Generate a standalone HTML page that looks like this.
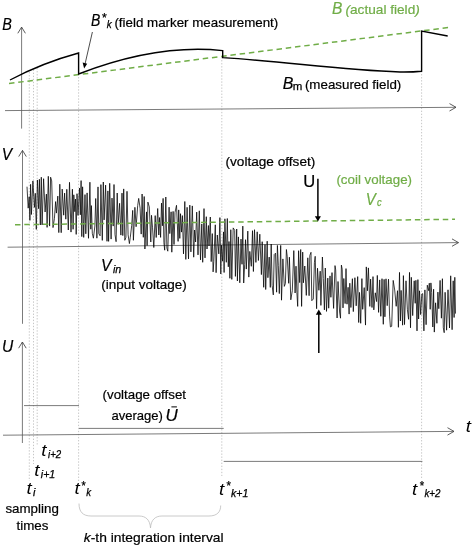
<!DOCTYPE html>
<html><head><meta charset="utf-8"><title>Figure</title>
<style>html,body{margin:0;padding:0;background:#fff}svg{display:block}</style></head>
<body>
<svg width="474" height="550" viewBox="0 0 474 550">
<rect width="474" height="550" fill="#fff"/>
<line x1="29.3" y1="72" x2="29.3" y2="481" stroke="#b8b8b8" stroke-width="0.8" stroke-dasharray="1.35 1.7" fill="none"/>
<line x1="33.5" y1="69.6" x2="33.5" y2="464" stroke="#b8b8b8" stroke-width="0.8" stroke-dasharray="1.35 1.7" fill="none"/>
<line x1="37.2" y1="68" x2="37.2" y2="446" stroke="#b8b8b8" stroke-width="0.8" stroke-dasharray="1.35 1.7" fill="none"/>
<line x1="78.6" y1="74" x2="78.6" y2="481" stroke="#b8b8b8" stroke-width="0.8" stroke-dasharray="1.35 1.7" fill="none"/>
<line x1="221.8" y1="57" x2="221.8" y2="476" stroke="#b8b8b8" stroke-width="0.8" stroke-dasharray="1.35 1.7" fill="none"/>
<line x1="421.6" y1="71" x2="421.6" y2="478.5" stroke="#b8b8b8" stroke-width="0.8" stroke-dasharray="1.35 1.7" fill="none"/>
<path d="M21.6,128.6 L21.6,27.1" stroke="#595959" stroke-width="0.8" fill="none"/>
<path d="M17.8,33.300000000000004 L21.6,27.1 L25.400000000000002,33.300000000000004" stroke="#3f3f3f" stroke-width="0.85" fill="none"/>
<path d="M22.5,323.8 L22.5,150.4" stroke="#595959" stroke-width="0.8" fill="none"/>
<path d="M18.7,156.6 L22.5,150.4 L26.3,156.6" stroke="#3f3f3f" stroke-width="0.85" fill="none"/>
<path d="M22.4,443 L22.4,342" stroke="#595959" stroke-width="0.8" fill="none"/>
<path d="M18.599999999999998,348.2 L22.4,342 L26.2,348.2" stroke="#3f3f3f" stroke-width="0.85" fill="none"/>
<path d="M5,110.6 L456,107.3" stroke="#595959" stroke-width="0.8" fill="none"/>
<path d="M449.5,103.6 L456,107.3 L449.5,111.0" stroke="#3f3f3f" stroke-width="0.85" fill="none"/>
<path d="M7.6,247.2 L458.5,242.6" stroke="#595959" stroke-width="0.8" fill="none"/>
<path d="M452.0,238.9 L458.5,242.6 L452.0,246.29999999999998" stroke="#3f3f3f" stroke-width="0.85" fill="none"/>
<path d="M3,435.2 L454,431.4" stroke="#595959" stroke-width="0.8" fill="none"/>
<path d="M447.5,427.7 L454,431.4 L447.5,435.09999999999997" stroke="#3f3f3f" stroke-width="0.85" fill="none"/>
<line x1="9" y1="83.5" x2="451.5" y2="27.1" stroke="#70AD47" stroke-width="1.5" stroke-dasharray="5.5 3.8" fill="none"/>
<path d="M10,80 Q42,63 78.6,53 L78.6,74 C120,58 170,45 222.7,50.6 L222.7,57.6 C290,62 340,70 400,72 Q412,72.2 421.6,71.2 L421.6,31 L447.7,36" stroke="#000" stroke-width="1.4" fill="none" stroke-linejoin="miter"/>
<path d="M27.0,186.7 L28.2,208.2 L29.2,196.7 L29.9,220.4 L30.6,184.3 L31.4,214.5 L32.9,180.9 L34.4,207.4 L35.3,193.3 L36.3,229.4 L37.4,180.0 L38.6,208.7 L39.4,179.3 L40.3,225.0 L41.3,177.2 L42.1,224.9 L43.6,178.7 L45.1,212.0 L46.4,194.1 L47.1,227.4 L48.3,176.3 L49.6,226.1 L50.6,177.2 L51.7,180.9 L53.0,227.6 L54.4,218.7 L55.6,201.6 L56.4,213.1 L57.8,196.1 L58.8,232.6 L59.8,184.2 L61.2,232.7 L62.2,189.1 L63.7,215.2 L64.6,193.1 L65.8,219.2 L66.8,189.3 L68.3,230.0 L69.5,182.3 L71.0,232.1 L72.4,189.2 L73.1,229.3 L73.8,194.8 L74.8,211.7 L75.5,199.1 L76.2,234.4 L77.0,193.7 L78.0,215.4 L79.5,188.1 L80.3,214.8 L81.1,180.6 L81.8,236.6 L82.6,186.8 L83.7,237.4 L85.0,194.6 L85.8,233.8 L87.1,192.9 L88.5,238.3 L89.9,182.2 L90.8,229.2 L91.4,205.6 L92.3,233.3 L93.4,238.2 L94.9,226.0 L95.7,198.5 L96.9,238.2 L98.0,186.9 L98.8,233.7 L100.1,235.8 L100.9,184.6 L102.3,240.4 L103.3,182.0 L104.1,219.9 L105.6,185.1 L107.0,241.3 L107.9,190.9 L108.6,241.4 L109.7,183.3 L111.1,239.1 L112.0,198.1 L113.2,226.1 L114.0,184.5 L115.0,234.7 L116.1,241.7 L117.2,193.0 L118.2,224.4 L119.6,203.3 L120.9,235.1 L122.0,193.1 L122.8,235.6 L123.7,188.9 L124.8,240.3 L125.9,237.4 L127.0,191.3 L128.1,234.8 L129.4,243.6 L130.3,237.2 L131.7,225.5 L132.7,210.4 L133.4,240.3 L134.9,207.3 L136.1,226.7 L137.7,205.6 L138.7,198.4 L140.1,208.2 L141.2,234.1 L142.1,194.0 L143.3,237.3 L144.2,196.5 L144.9,249.0 L146.5,211.9 L147.1,245.6 L147.9,202.1 L149.3,206.9 L150.8,242.0 L151.5,215.3 L152.5,227.2 L153.8,247.5 L155.2,215.6 L156.2,237.5 L157.7,208.5 L158.8,235.0 L159.6,217.5 L160.6,237.4 L161.5,203.1 L162.4,225.8 L163.1,198.4 L163.9,242.7 L164.7,250.2 L165.8,197.0 L166.9,248.1 L167.8,251.2 L169.1,207.2 L169.8,233.6 L171.1,211.8 L171.8,252.2 L173.1,211.4 L174.0,244.5 L175.0,212.4 L176.5,205.3 L178.1,241.4 L178.7,209.9 L179.8,238.4 L180.5,213.7 L181.5,232.1 L182.4,215.6 L183.5,253.9 L184.8,201.5 L185.8,259.4 L187.1,207.3 L188.5,258.9 L189.8,205.1 L190.9,251.9 L192.3,205.9 L193.7,257.2 L194.6,230.0 L195.6,242.0 L196.7,212.1 L198.0,254.9 L199.3,210.8 L200.5,259.9 L201.8,224.0 L202.7,262.3 L204.0,208.6 L205.0,257.9 L206.3,216.7 L207.0,249.0 L208.4,225.5 L209.0,246.0 L210.3,217.0 L211.2,261.6 L212.3,233.6 L213.1,271.9 L213.8,261.4 L215.3,224.8 L216.1,272.7 L217.3,235.0 L218.8,253.9 L219.9,217.6 L220.8,274.0 L221.4,245.1 L222.5,261.2 L223.5,231.9 L224.1,272.5 L224.9,218.8 L226.3,262.3 L227.3,218.5 L228.3,266.8 L229.0,241.5 L229.9,278.3 L230.8,229.7 L231.8,279.4 L233.2,227.9 L234.7,230.3 L235.4,276.4 L236.7,229.0 L237.4,281.0 L238.4,236.9 L239.8,282.8 L241.0,239.1 L242.0,264.3 L242.8,226.1 L243.7,283.0 L244.7,264.3 L245.5,239.7 L246.3,269.1 L247.8,231.1 L248.8,277.1 L249.8,251.4 L251.3,266.3 L252.5,230.7 L253.4,271.5 L254.5,229.7 L255.9,262.4 L257.2,231.8 L258.4,260.5 L259.8,234.2 L261.4,274.6 L262.2,241.7 L263.7,287.3 L265.0,244.5 L265.7,289.5 L267.2,241.2 L267.9,277.7 L269.2,257.1 L270.3,287.4 L271.2,244.0 L272.1,285.3 L273.3,294.9 L274.2,254.5 L275.5,253.2 L276.6,292.2 L277.4,245.4 L278.3,265.3 L279.3,293.6 L280.7,245.4 L281.5,300.2 L282.9,258.9 L284.3,286.4 L285.4,283.5 L286.4,249.5 L287.2,256.2 L288.7,283.3 L289.4,257.2 L290.8,299.8 L292.3,290.7 L293.8,250.6 L295.1,293.0 L296.0,266.2 L296.9,292.8 L297.7,306.4 L298.6,250.7 L299.7,282.6 L300.7,249.5 L301.6,306.4 L302.7,252.1 L303.4,282.8 L304.8,266.0 L306.3,295.4 L307.8,257.8 L309.1,295.7 L309.8,255.5 L311.0,252.3 L311.8,300.7 L313.3,299.0 L314.4,262.7 L315.2,256.3 L316.6,308.7 L317.5,268.2 L318.9,290.3 L320.2,271.2 L320.9,305.4 L322.4,257.0 L323.3,278.4 L324.4,309.9 L325.3,268.0 L326.5,311.4 L327.8,278.1 L328.7,308.2 L330.0,275.9 L330.9,297.3 L332.0,272.6 L333.6,308.4 L335.0,265.6 L335.7,269.9 L337.1,318.0 L338.0,281.5 L339.6,312.0 L340.5,318.2 L341.4,265.1 L342.2,269.2 L343.0,307.9 L343.8,278.5 L345.1,303.6 L346.0,268.6 L347.0,304.2 L348.1,287.3 L349.1,314.1 L349.8,283.2 L350.9,307.5 L352.4,278.7 L353.3,311.6 L354.9,277.7 L356.2,305.8 L357.7,276.6 L358.7,322.5 L359.5,292.4 L360.7,323.3 L361.9,278.6 L362.7,309.3 L364.2,287.6 L365.5,325.1 L366.3,266.9 L367.4,290.8 L368.4,267.9 L369.8,306.4 L370.6,279.1 L372.0,307.5 L373.0,276.6 L373.8,309.9 L375.3,292.8 L376.6,301.6 L377.3,275.4 L378.6,312.4 L379.7,279.9 L380.8,316.3 L382.0,278.7 L383.3,324.3 L384.1,279.4 L384.9,316.8 L386.0,278.8 L387.2,305.7 L388.5,279.2 L389.6,316.1 L390.4,326.9 L391.7,326.3 L393.2,280.4 L394.7,290.0 L396.2,306.3 L397.5,290.7 L398.4,327.3 L399.5,272.4 L400.4,321.0 L401.1,290.4 L402.6,325.2 L403.4,275.6 L404.5,324.6 L406.0,280.8 L407.4,309.8 L408.6,319.3 L409.5,272.4 L410.5,327.8 L411.3,277.3 L412.7,315.6 L414.2,280.8 L415.2,303.3 L415.9,280.3 L417.0,330.9 L417.9,279.6 L418.6,319.0 L419.5,290.8 L420.7,314.6 L421.8,294.2 L422.7,293.6 L423.9,330.9 L424.9,289.9 L426.1,324.7 L427.3,285.2 L428.7,290.7 L429.3,283.2 L430.2,309.3 L430.9,282.9 L431.7,292.5 L432.8,327.0 L433.6,289.2 L434.3,332.1 L435.6,302.8 L436.9,323.3 L437.9,292.1 L438.8,308.7 L440.1,280.4 L441.4,318.2 L442.4,278.7 L443.3,327.8 L444.2,332.7 L445.1,292.3 L446.6,330.2 L448.0,289.8 L449.5,328.0 L450.7,275.8 L452.1,329.7 L453.2,280.8 L454.1,317.5 L454.8,277.3 L455.5,313.6" stroke="#000" stroke-width="0.75" fill="none" stroke-linejoin="round"/>
<line x1="15" y1="224.7" x2="455" y2="219.3" stroke="#70AD47" stroke-width="1.5" stroke-dasharray="5.5 3.8" fill="none"/>
<line x1="24" y1="405.6" x2="79" y2="405.6" stroke="#595959" stroke-width="0.8" fill="none"/>
<line x1="79" y1="428.4" x2="223.7" y2="428.4" stroke="#595959" stroke-width="0.8" fill="none"/>
<line x1="223.7" y1="461.4" x2="422.4" y2="461.4" stroke="#595959" stroke-width="0.8" fill="none"/>
<line x1="317.9" y1="178.7" x2="317.9" y2="217" stroke="#000" stroke-width="1.5"/>
<path d="M314.9,216.3 L320.9,216.3 L317.9,221.6 Z" fill="#000"/>
<line x1="318.8" y1="353" x2="318.8" y2="314" stroke="#000" stroke-width="1.5"/>
<path d="M315.8,314.8 L321.8,314.8 L318.8,309.5 Z" fill="#000"/>
<line x1="92.4" y1="32" x2="84.8" y2="65" stroke="#000" stroke-width="0.7"/>
<path d="M82.6,62.6 L87.2,63.7 L84.1,68.4 Z" fill="#000"/>
<path d="M79,503.5 C79,512 83,516 91,516 L139,516 C146,516 150,520 150.5,528 C151,520 155,516 162,516 L209,516 C217,516 220.7,512 220.7,505.5" stroke="#bdbdbd" stroke-width="0.8" fill="none"/>
<g font-family="'Liberation Sans', sans-serif">
<text x="2.17" y="30.0" font-size="16.6" textLength="9.64" lengthAdjust="spacingAndGlyphs" font-style="italic" fill="#000" stroke="#000" stroke-width="0.2">B</text>
<text x="90.97" y="26.4" font-size="16.3" textLength="9.37" lengthAdjust="spacingAndGlyphs" font-style="italic" fill="#000" stroke="#000" stroke-width="0.2">B</text>
<text x="102.07" y="22.2" font-size="13.5" textLength="4.77" lengthAdjust="spacingAndGlyphs" fill="#000" stroke="#000" stroke-width="0.25">*</text>
<text x="106.87" y="28.1" font-size="10.5" textLength="4.90" lengthAdjust="spacingAndGlyphs" font-style="italic" fill="#000" stroke="#000" stroke-width="0.25">k</text>
<text x="114.43" y="26.6" font-size="13" textLength="163.84" lengthAdjust="spacingAndGlyphs" fill="#000" stroke="#000" stroke-width="0.2">(field marker measurement)</text>
<text x="331.94" y="14.3" font-size="16.8" textLength="10.38" lengthAdjust="spacingAndGlyphs" font-style="italic" fill="#70AD47" stroke="#70AD47" stroke-width="0.2">B</text>
<text x="345.48" y="14.3" font-size="13" textLength="74.31" lengthAdjust="spacingAndGlyphs" fill="#70AD47" stroke="#70AD47" stroke-width="0.2"><tspan font-style="italic">(</tspan>actual field<tspan font-style="italic">)</tspan></text>
<text x="282.71" y="89.2" font-size="16.3" textLength="10.71" lengthAdjust="spacingAndGlyphs" font-style="italic" fill="#000" stroke="#000" stroke-width="0.2">B</text>
<text x="292.88" y="90.3" font-size="10.5" textLength="9.57" lengthAdjust="spacingAndGlyphs" fill="#000" stroke="#000" stroke-width="0.25">m</text>
<text x="304.93" y="89.2" font-size="13" textLength="96.37" lengthAdjust="spacingAndGlyphs" fill="#000" stroke="#000" stroke-width="0.2">(measured field)</text>
<text x="1.82" y="160.3" font-size="16.8" textLength="10.29" lengthAdjust="spacingAndGlyphs" font-style="italic" fill="#000" stroke="#000" stroke-width="0.2">V</text>
<text x="225.51" y="166.2" font-size="13" textLength="89.79" lengthAdjust="spacingAndGlyphs" fill="#000" stroke="#000" stroke-width="0.2">(voltage offset)</text>
<text x="303.33" y="187.4" font-size="16.3" textLength="11.96" lengthAdjust="spacingAndGlyphs" fill="#000" stroke="#000" stroke-width="0.2">U</text>
<text x="336.43" y="184.0" font-size="13" textLength="75.59" lengthAdjust="spacingAndGlyphs" fill="#70AD47" stroke="#70AD47" stroke-width="0.2">(coil voltage)</text>
<text x="365.65" y="204.9" font-size="16.8" textLength="10.08" lengthAdjust="spacingAndGlyphs" font-style="italic" fill="#70AD47" stroke="#70AD47" stroke-width="0.2">V</text>
<text x="376.99" y="206.2" font-size="11" textLength="4.61" lengthAdjust="spacingAndGlyphs" font-style="italic" fill="#70AD47" stroke="#70AD47" stroke-width="0.25">c</text>
<text x="101.01" y="271.1" font-size="16.8" textLength="10.39" lengthAdjust="spacingAndGlyphs" font-style="italic" fill="#000" stroke="#000" stroke-width="0.2">V</text>
<text x="112.96" y="272.6" font-size="11" textLength="8.29" lengthAdjust="spacingAndGlyphs" font-style="italic" fill="#000" stroke="#000" stroke-width="0.25">in</text>
<text x="101.22" y="289.0" font-size="13" textLength="85.54" lengthAdjust="spacingAndGlyphs" fill="#000" stroke="#000" stroke-width="0.2">(input voltage)</text>
<text x="2.03" y="352.0" font-size="16.5" textLength="11.20" lengthAdjust="spacingAndGlyphs" font-style="italic" fill="#000" stroke="#000" stroke-width="0.2">U</text>
<text x="102.63" y="399.4" font-size="13" textLength="83.39" lengthAdjust="spacingAndGlyphs" fill="#000" stroke="#000" stroke-width="0.2">(voltage offset</text>
<text x="111.40" y="420.1" font-size="13" textLength="51.52" lengthAdjust="spacingAndGlyphs" fill="#000" stroke="#000" stroke-width="0.2">average)</text>
<text x="165.42" y="420.5" font-size="16.5" textLength="12.20" lengthAdjust="spacingAndGlyphs" font-style="italic" fill="#000" stroke="#000" stroke-width="0.2">U</text>
<text x="465.85" y="432.2" font-size="16.5" textLength="5.21" lengthAdjust="spacingAndGlyphs" font-style="italic" fill="#000">t</text>
<text x="41.30" y="456.2" font-size="16.5" textLength="5.21" lengthAdjust="spacingAndGlyphs" font-style="italic" fill="#000">t</text>
<text x="48.00" y="458.0" font-size="10" textLength="13.22" lengthAdjust="spacingAndGlyphs" font-style="italic" fill="#000" stroke="#000" stroke-width="0.25">i+2</text>
<text x="34.30" y="475.6" font-size="16.5" textLength="5.21" lengthAdjust="spacingAndGlyphs" font-style="italic" fill="#000">t</text>
<text x="40.80" y="477.6" font-size="10" textLength="14.43" lengthAdjust="spacingAndGlyphs" font-style="italic" fill="#000" stroke="#000" stroke-width="0.25">i+1</text>
<text x="26.55" y="494.1" font-size="16.5" textLength="5.21" lengthAdjust="spacingAndGlyphs" font-style="italic" fill="#000">t</text>
<text x="33.00" y="495.6" font-size="10" textLength="2.41" lengthAdjust="spacingAndGlyphs" font-style="italic" fill="#000" stroke="#000" stroke-width="0.25">i</text>
<text x="74.45" y="494.0" font-size="16.5" textLength="5.21" lengthAdjust="spacingAndGlyphs" font-style="italic" fill="#000">t</text>
<text x="81.38" y="490.3" font-size="12.5" textLength="4.23" lengthAdjust="spacingAndGlyphs" fill="#000" stroke="#000" stroke-width="0.25">*</text>
<text x="86.20" y="496.2" font-size="10" textLength="4.76" lengthAdjust="spacingAndGlyphs" font-style="italic" fill="#000" stroke="#000" stroke-width="0.25">k</text>
<text x="219.00" y="495.0" font-size="16.5" textLength="5.21" lengthAdjust="spacingAndGlyphs" font-style="italic" fill="#000">t</text>
<text x="226.47" y="490.4" font-size="12.5" textLength="4.44" lengthAdjust="spacingAndGlyphs" fill="#000" stroke="#000" stroke-width="0.25">*</text>
<text x="231.10" y="496.9" font-size="10" textLength="17.25" lengthAdjust="spacingAndGlyphs" font-style="italic" fill="#000" stroke="#000" stroke-width="0.25">k+1</text>
<text x="412.05" y="495.0" font-size="16.5" textLength="5.21" lengthAdjust="spacingAndGlyphs" font-style="italic" fill="#000">t</text>
<text x="419.67" y="490.0" font-size="12.5" textLength="4.44" lengthAdjust="spacingAndGlyphs" fill="#000" stroke="#000" stroke-width="0.25">*</text>
<text x="424.40" y="496.5" font-size="10" textLength="16.05" lengthAdjust="spacingAndGlyphs" font-style="italic" fill="#000" stroke="#000" stroke-width="0.25">k+2</text>
<text x="5.44" y="513.4" font-size="13" textLength="53.36" lengthAdjust="spacingAndGlyphs" fill="#000" stroke="#000" stroke-width="0.2">sampling</text>
<text x="16.50" y="530.2" font-size="13" textLength="31.92" lengthAdjust="spacingAndGlyphs" fill="#000" stroke="#000" stroke-width="0.2">times</text>
<text x="83.83" y="542.3" font-size="13" textLength="139.78" lengthAdjust="spacingAndGlyphs" fill="#000" stroke="#000" stroke-width="0.2"><tspan font-style="italic">k</tspan>-th integration interval</text>
<line x1="171.4" y1="406.9" x2="176.9" y2="406.9" stroke="#000" stroke-width="1"/>
</g>
</svg>
</body></html>
